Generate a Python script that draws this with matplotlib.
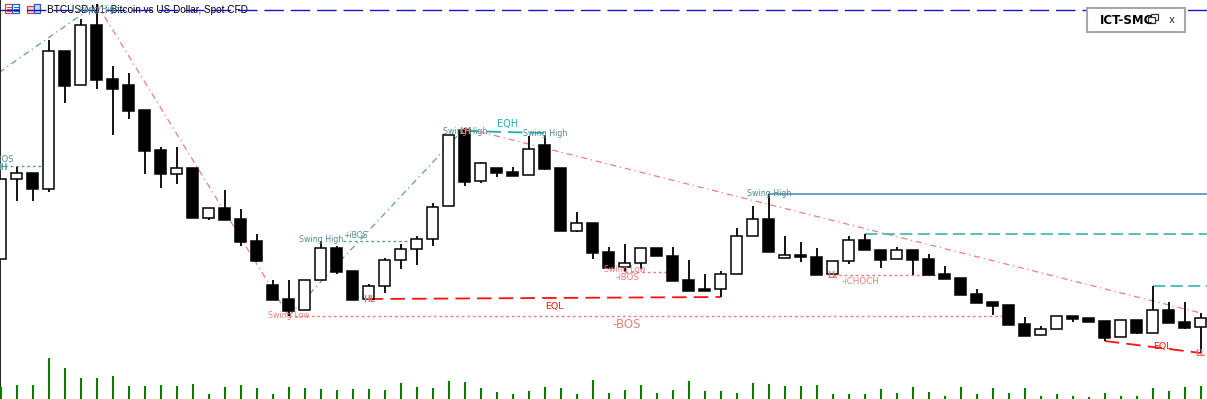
import matplotlib.pyplot as plt
import matplotlib.patches as mpatches
import numpy as np

plt.rcParams["font.family"] = ["DejaVu Sans"]

# BTCUSD M1 bars (left to right)
opens = [67141, 67221, 67227, 67211, 67349, 67315, 67375, 67321, 67315, 67290,
         67250, 67226, 67232, 67182, 67192, 67181, 67159, 67115, 67101, 67090,
         67120, 67152, 67129, 67101, 67114, 67140, 67151, 67161, 67194, 67270,
         67219, 67232, 67228, 67225, 67255, 67232, 67169, 67177, 67148, 67133,
         67137, 67152, 67144, 67120, 67111, 67111, 67126, 67164, 67181, 67142,
         67145, 67143, 67126, 67139, 67160, 67150, 67141, 67150, 67141, 67126,
         67122, 67106, 67098, 67095, 67076, 67065, 67071, 67084, 67082, 67079,
         67063, 67080, 67067, 67090, 67078, 67073]
highs = [67221, 67233, 67227, 67360, 67349, 67381, 67396, 67334, 67327, 67290,
         67253, 67253, 67232, 67192, 67210, 67191, 67166, 67120, 67120, 67120,
         67159, 67154, 67129, 67116, 67142, 67156, 67164, 67197, 67265, 67272,
         67238, 67232, 67233, 67264, 67265, 67232, 67188, 67177, 67153, 67156,
         67152, 67152, 67153, 67140, 67126, 67129, 67172, 67194, 67206, 67164,
         67158, 67152, 67139, 67164, 67166, 67150, 67153, 67150, 67146, 67134,
         67122, 67111, 67098, 67095, 67083, 67074, 67084, 67084, 67082, 67079,
         67080, 67080, 67114, 67098, 67098, 67087]
lows = [67141, 67199, 67199, 67208, 67297, 67315, 67311, 67265, 67281, 67226,
        67212, 67216, 67182, 67180, 67180, 67154, 67138, 67100, 67084, 67090,
        67120, 67126, 67100, 67101, 67107, 67131, 67135, 67154, 67194, 67214,
        67217, 67223, 67224, 67225, 67230, 67169, 67168, 67141, 67132, 67128,
        67131, 67144, 67119, 67109, 67109, 67103, 67126, 67164, 67148, 67142,
        67138, 67125, 67126, 67136, 67150, 67132, 67141, 67125, 67125, 67121,
        67105, 67097, 67085, 67075, 67064, 67065, 67071, 67078, 67078, 67059,
        67063, 67066, 67067, 67077, 67071, 67047]
closes = [67221, 67227, 67211, 67349, 67314, 67375, 67320, 67311, 67289, 67249,
          67226, 67232, 67182, 67192, 67180, 67158, 67139, 67100, 67089, 67120,
          67152, 67128, 67100, 67114, 67140, 67151, 67161, 67193, 67265, 67218,
          67237, 67227, 67224, 67251, 67231, 67169, 67177, 67147, 67132, 67137,
          67152, 67144, 67119, 67109, 67109, 67126, 67164, 67181, 67148, 67145,
          67143, 67125, 67139, 67160, 67150, 67140, 67150, 67140, 67125, 67121,
          67105, 67097, 67094, 67075, 67064, 67071, 67084, 67081, 67078, 67062,
          67080, 67067, 67090, 67077, 67072, 67082]
volumes = [120, 143, 143, 410, 310, 210, 210, 230, 130, 130,
           140, 130, 150, 50, 120, 140, 110, 50, 120, 110,
           100, 90, 100, 100, 90, 160, 120, 110, 180, 170,
           110, 70, 50, 80, 120, 110, 50, 190, 60, 90,
           140, 60, 90, 180, 80, 80, 60, 160, 150, 130,
           130, 140, 50, 50, 50, 100, 60, 120, 70, 30,
           120, 50, 110, 60, 110, 30, 50, 30, 20, 60,
           30, 30, 110, 80, 120, 130]

# zigzag of swing points (bar index, price)
zigzag_idx = [-4, 6, 18, 29, 75]
zigzag_price = [67284, 67396, 67084, 67272, 67087]

# swing labels
swing_high_idx = [6, 20, 29, 34, 48]
swing_high_y = [67391, 67160, 67269, 67267, 67207]
swing_low_idx = [18, 39]
swing_low_y = [67085, 67130]

# structure points
struct_text = ["HH", "HL", "LH", "LL", "LL"]
struct_idx = [0.0, 23, 29, 52, 75]
struct_y = [67233, 67101, 67269, 67124, 67047]

# break of structure lines
bos_text = ["+BOS", "+iBOS", "-iBOS", "-BOS", "-iCHOCH"]
bos_start = [-2.3, 21.4, 39, 18, 52]
bos_end = [2.7, 25.7, 41.7, 62.6, 58.6]
bos_price = [67234, 67159, 67128, 67084, 67125]
bos_lab_idx = [0.05, 22.2, 39.2, 39.1, 53.75]
bos_lab_y = [67240, 67164, 67122, 67076, 67119]
bos_bull = [True, True, False, False, False]
bos_size = [6, 5.6, 6.3, 8.5, 6.3]

# equal highs / lows
eq_text = ["EQH", "EQL", "EQL"]
eq_i1 = [29, 23, 69]
eq_p1 = [67269, 67101, 67059]
eq_i2 = [34, 45, 75]
eq_p2 = [67267, 67103, 67047]
eq_lab_idx = [31.7, 34.6, 72.6]
eq_lab_y = [67276, 67094, 67053]

# open levels to the right edge
ray_idx = [48, 54, 72]
ray_price = [67206, 67166, 67114]
ray_color = ["#4682b4", "#20b2aa", "#20b2aa"]
ray_style = ["-", (0, (8, 3.5)), (0, (8, 3.5))]
bid_price = 67390

TEAL = "#5f9ea0"
TEAL_TXT = "#4f8c8d"
CORAL = "#ee7f7f"

fig = plt.figure(figsize=(12.07, 3.99), dpi=100)
fig.patch.set_facecolor("white")

ui = fig.add_axes([0, 0, 1, 1], zorder=5)
ui.set_xlim(0, 1207)
ui.set_ylim(399, 0)
ui.axis("off")
ui.patch.set_visible(False)

ax = fig.add_axes([0, 0, 1, 1], zorder=1)
ax.patch.set_visible(False)
n = len(opens)
x = np.arange(n)
x_left = -0.05
x_right = x_left + 1207 / 16
ax.set_xlim(x_left, x_right)
ax.set_ylim(67001, 67400)
for s in ["top", "right", "bottom"]:
    ax.spines[s].set_visible(False)
ax.spines["left"].set_linewidth(1.2)
ax.set_xticks([])
ax.set_yticks([])

# title + icons
ax.text(47, 10, "BTCUSD,M1: Bitcoin vs US Dollar, Spot CFD", transform=ui.transData,
        fontsize=7.2, family="Liberation Sans", va="center", ha="left", color="black", zorder=1)
ax.add_patch(mpatches.Rectangle((5, 4), 7, 9, fill=False, ec="#e04040", lw=0.9, transform=ui.transData))
ax.add_patch(mpatches.Rectangle((12, 4), 7, 9, fill=False, ec="#2060c0", lw=0.9, transform=ui.transData))
for yy in [6.5, 8.5, 10.5]:
    ax.plot([6.5, 10.5], [yy, yy], color="#e04040", lw=0.7, transform=ui.transData)
    ax.plot([13.5, 17.5], [yy, yy], color="#2060c0", lw=0.7, transform=ui.transData)
ax.add_patch(mpatches.Rectangle((27, 6), 7, 7, fc="#fbd8d0", ec="#e04040", lw=0.9, transform=ui.transData))
ax.add_patch(mpatches.Rectangle((34, 4), 6, 9, fc="#c8dcf4", ec="#2060c0", lw=0.9, transform=ui.transData))

# bid line
ax.axhline(bid_price, color="#1414c8", lw=1.0, ls=(0, (14, 5)), zorder=1)

# volumes
vax = ax.twinx()
vax.set_ylim(0, 3990)
vax.set_yticks([])
for s in vax.spines.values():
    s.set_visible(False)
vax.vlines(x, 0, volumes, color="#008000", lw=1.5)

# candles
o = np.array(opens)
c = np.array(closes)
bull = c >= o
bottoms = np.minimum(o, c)
heights = np.maximum(np.abs(c - o), 1)
ax.vlines(x, lows, highs, color="black", lw=1.3, zorder=3)
ax.bar(x, heights, bottom=bottoms, width=0.69,
       color=["white" if b else "black" for b in bull],
       edgecolor="black", linewidth=1.1, zorder=4)

# zigzag structure
for k in range(len(zigzag_idx) - 1):
    up = zigzag_price[k + 1] > zigzag_price[k]
    ax.plot(zigzag_idx[k:k + 2], zigzag_price[k:k + 2],
            color=TEAL if up else CORAL, lw=0.9, ls=(0, (5, 3, 1, 3)), zorder=2)

# rays
for i0, p, col, st in zip(ray_idx, ray_price, ray_color, ray_style):
    ax.plot([i0, x_right], [p, p], color=col, lw=1.1, ls=st, zorder=2)

# BOS / CHOCH
for t, a, b, p, li, ly, bu, fs in zip(bos_text, bos_start, bos_end, bos_price,
                                      bos_lab_idx, bos_lab_y, bos_bull, bos_size):
    col = TEAL if bu else CORAL
    ax.plot([a, b], [p, p], color=col, lw=1.0, ls=(0, (2, 2)), zorder=2)
    ax.text(li, ly, t, color=TEAL_TXT if bu else CORAL, fontsize=fs, ha="center", va="center", zorder=6)

# equal highs / lows
for t, a, pa, b, pb, li, ly in zip(eq_text, eq_i1, eq_p1, eq_i2, eq_p2, eq_lab_idx, eq_lab_y):
    col = "#20b2aa" if t == "EQH" else "#ff1010"
    ax.plot([a, b], [pa, pb], color=col, lw=1.3, ls=(0, (8, 4)), zorder=2)
    ax.text(li, ly, t, color=col, fontsize=7 if t == "EQH" else 6.8, ha="center", va="center", zorder=6)

# swing labels
for i0, yy in zip(swing_high_idx, swing_high_y):
    ax.text(i0, yy, "Swing High", color=TEAL_TXT, fontsize=5.7, ha="center", va="center", zorder=6)
for i0, yy in zip(swing_low_idx, swing_low_y):
    ax.text(i0, yy, "Swing Low", color=CORAL, fontsize=5.7, ha="center", va="center", zorder=6)

for t, i0, yy in zip(struct_text, struct_idx, struct_y):
    col = TEAL if t == "HH" else "#f07070"
    ax.text(i0, yy, t, color=col, fontsize=5.8, fontweight="bold", ha="center", va="center", zorder=7)

# indicator panel box (top right)
ui.add_patch(mpatches.Rectangle((1087, 8), 98, 24, fc="white", ec="#a8a8a8", lw=1.5))
ui.text(1100, 20.5, "ICT-SMC", fontsize=8.5, fontweight="bold", ha="left", va="center", color="black")
ui.add_patch(mpatches.Rectangle((1146, 11), 17, 18, fc="white", ec="none"))
ui.add_patch(mpatches.Rectangle((1151, 14), 7, 6, fc="white", ec="#303030", lw=0.9))
ui.add_patch(mpatches.Rectangle((1148, 17), 7, 6, fc="white", ec="#303030", lw=0.9))
ui.text(1172, 20, "x", fontsize=7.5, ha="center", va="center", color="#303030")

fig.savefig("out.png", dpi=100)
